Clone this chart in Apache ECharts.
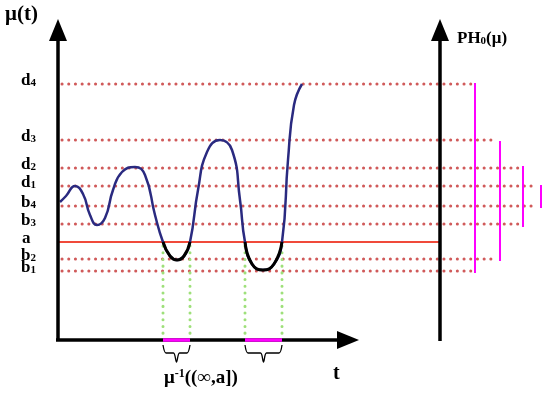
<!DOCTYPE html>
<html>
<head>
<meta charset="utf-8">
<script src="https://cdn.jsdelivr.net/npm/echarts@6/dist/echarts.min.js"></script>
<style>html,body{margin:0;padding:0;background:#fff}#chart{width:550px;height:405px}</style>
</head>
<body>
<div id="chart"></div>
<script>
'use strict';
// level names and their heights (pixel-like units, y grows downward)
var levelNames = ['d4', 'd3', 'd2', 'd1', 'b4', 'b3', 'b2', 'b1'];
var levelY = [84, 140, 168, 186, 206, 224, 259, 271];
var levelEnd = [472, 497, 519, 537, 535, 519, 497, 472];
var aLevel = 242;
// the function mu(t)
var curve = [[60, 202], [66, 196], [75, 186], [83, 194], [90, 215], [97, 225], [105, 218], [113, 190],
    [122, 172], [135, 167], [145, 175], [155, 215], [163, 242], [170, 256], [177, 260], [184, 256],
    [190, 242], [198, 190], [207, 152], [220, 140], [232, 150], [240, 200], [245, 242], [252, 264],
    [263, 270], [274, 264], [282, 242], [288, 160], [294, 105], [302, 84]];
var below1 = [[163, 242], [170, 256], [177, 260], [184, 256], [190, 242]];
var below2 = [[245, 242], [252, 264], [263, 270], [274, 264], [282, 242]];
var crossX = [[163, 190], [245, 282]];
// barcode: x position, birth, death
var barX = [475, 500, 523, 541];
var barTop = [83, 141, 166, 185];
var barBottom = [273, 261, 227, 208];

var chart = echarts.init(document.getElementById('chart'));
var series = [];
function line(data, color, width, extra) {
    var s = {
        type: 'line', data: data, symbol: 'none', silent: true, animation: false,
        lineStyle: {color: color, width: width}
    };
    for (var k in extra) s[k] = extra[k];
    series.push(s);
}
var dotStyle = function (c) {
    return {color: c, width: 3, type: [0.1, 6.6], cap: 'round'};
};
for (var i = 0; i < levelY.length; i++) {
    line([[62, levelY[i]], [levelEnd[i], levelY[i]]], '#d05a5a', 3, {lineStyle: dotStyle('#d05a5a')});
}
for (var j = 0; j < crossX.length; j++) {
    for (var m = 0; m < 2; m++) {
        line([[crossX[j][m], 246], [crossX[j][m], 336]], '#9ee07a', 3, {lineStyle: dotStyle('#9ee07a')});
    }
}
line([[58, aLevel], [440, aLevel]], '#f04a3a', 2);
line(curve, '#2a2a80', 2.5, {smooth: 0.5});
line(below1, '#000', 3, {smooth: 0.5});
line(below2, '#000', 3, {smooth: 0.5});
for (var b = 0; b < barX.length; b++) {
    line([[barX[b], barTop[b]], [barX[b], barBottom[b]]], '#ff00ff', 2);
}
// axes
line([[58, 341], [58, 36]], '#000', 3.5);
line([[56, 340], [342, 340]], '#000', 3.5);
line([[440, 341], [440, 36]], '#000', 3.5);
series.push({type: 'scatter', silent: true, animation: false, symbol: 'triangle', symbolSize: [18, 22],
    itemStyle: {color: '#000', opacity: 1}, data: [[58, 30], [440, 30]]});
series.push({type: 'scatter', silent: true, animation: false, symbol: 'triangle', symbolSize: [18, 22],
    symbolRotate: -90, itemStyle: {color: '#000', opacity: 1}, data: [[348, 340]]});
for (var q = 0; q < crossX.length; q++) {
    var x1 = crossX[q][0], x2 = crossX[q][1], mid = (x1 + x2) / 2;
    line([[x1, 340], [x2, 340]], '#ff00ff', 3.5, {z: 5});
    line([[x1, 345], [x1 + 3, 353], [mid - 3, 353], [mid, 362], [mid + 3, 353], [x2 - 3, 353], [x2, 345]], '#000', 1.3, {smooth: 0.3});
}

var font = '"Liberation Serif", "DejaVu Serif", serif';
var graphics = [];
function txt(x, y, rich, size) {
    var sub = Math.round(size * 0.62);
    graphics.push({type: 'text', left: x, top: y, style: {
        rich: {
            m: {font: 'bold ' + size + 'px ' + font, fill: '#000', lineHeight: size + 4},
            s: {font: 'bold ' + sub + 'px ' + font, fill: '#000', lineHeight: sub, padding: [size * 0.35, 0, 0, 0]},
            p: {font: 'bold ' + sub + 'px ' + font, fill: '#000', lineHeight: sub, padding: [0, 0, size * 0.45, 0]}
        },
        text: rich
    }});
}
for (var n = 0; n < levelNames.length; n++) {
    txt(21, levelY[n] - 12, '{m|' + levelNames[n][0] + '}{s|' + levelNames[n][1] + '}', 17);
}
txt(22, aLevel - 12, '{m|a}', 17);
txt(5, 4, '{m|μ(t)}', 21);
txt(457, 30, '{m|PH}{s|0}{m|(μ)}', 17);
txt(333, 364, '{m|t}', 20);
txt(164, 368, '{m|μ}{p|-1}{m|((∞,a])}', 19);

chart.setOption({
    animation: false,
    grid: {left: 0, right: 0, top: 0, bottom: 0},
    xAxis: {type: 'value', min: 0, max: 550, show: false},
    yAxis: {type: 'value', min: 0, max: 405, inverse: true, show: false},
    series: series,
    graphic: graphics
});
</script>
</body>
</html>
